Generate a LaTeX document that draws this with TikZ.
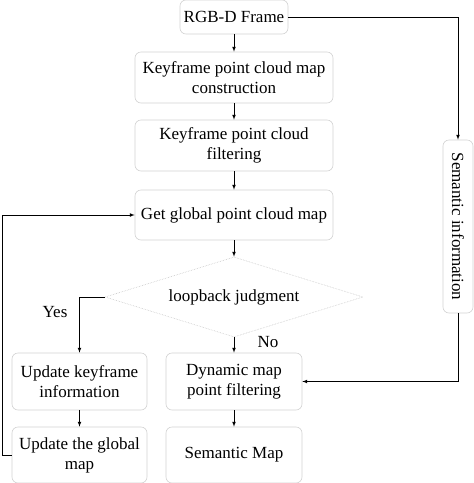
\documentclass[tikz,border=0pt]{standalone}
\usepackage{fontspec}
\setmainfont{Liberation Serif}
\usepackage{tikz}
\usetikzlibrary{arrows}
\usetikzlibrary{shapes}
\usetikzlibrary{positioning}

\begin{document}
\begin{tikzpicture}
      [x=1pt,y=1pt,>=latex,
       stepBox/.style={rectangle,rounded corners=6pt,draw=gray!35,line width=0.6pt,align=center,inner sep=2pt,
                       font=\fontsize{17}{20}\selectfont},
       judgeBox/.style={diamond,aspect=3.225,draw=gray!45,densely dotted,line width=0.6pt,
                        inner xsep=0pt,inner ysep=12pt,font=\fontsize{17}{20}\selectfont},
       flowLabel/.style={font=\fontsize{17}{20}\selectfont,inner sep=0pt},
       flow/.style={->,line width=0.7pt}]
      \useasboundingbox (0,0) rectangle (474,-483);
      % main column
      \node[stepBox,minimum width=108pt,minimum height=34pt] (frame) at (234,-17) {RGB-D Frame};
      \node[stepBox,minimum width=198pt,minimum height=51pt] (build) at (234,-77.5) {Keyframe point cloud map\\construction};
      \node[stepBox,minimum width=198pt,minimum height=51pt] (filter) at (234,-145.5) {Keyframe point cloud\\filtering};
      \node[stepBox,minimum width=198pt,minimum height=50pt] (global) at (234,-215) {Get global point cloud map};
      \node[judgeBox] (judge) at (234,-297) {loopback judgment};
      % branches
      \node[stepBox,minimum width=135pt,minimum height=57pt] (keyinfo) at (79.5,-381.5) {Update keyframe\\information};
      \node[stepBox,minimum width=135pt,minimum height=56pt] (update) at (79.5,-455) {Update the global\\map};
      \node[stepBox,minimum width=136pt,minimum height=57pt] (dynamic) at (234,-381.5) {Dynamic map\\point filtering};
      \node[stepBox,minimum width=136pt,minimum height=56pt] (semmap) at (234,-455) {Semantic Map};
      \node[stepBox,rotate=-90,minimum width=173pt,minimum height=30pt] (seminfo) at (458,-226.5) {Semantic information};
      \node[flowLabel] (yes) at (55,-312) {Yes};
      \node[flowLabel] (no) at (268,-342) {No};
      % connectors
      \draw[flow] (frame) -- (build);
      \draw[flow] (build) -- (filter);
      \draw[flow] (filter) -- (global);
      \draw[flow] (global.south) -- (judge.north);
      \draw[flow] (judge.south) -- (dynamic.north);
      \draw[flow] (dynamic) -- (semmap);
      \draw[flow] (keyinfo) -- (update);
      \draw[flow] (judge.west) -| (keyinfo.north);
      \draw[flow] (frame.east) -| (seminfo.west);
      \draw[flow] (seminfo.east) |- (dynamic.east);
      \draw[flow] (update.west) -- ++(-9,0) |- (global.west);
    \end{tikzpicture}
\end{document}
